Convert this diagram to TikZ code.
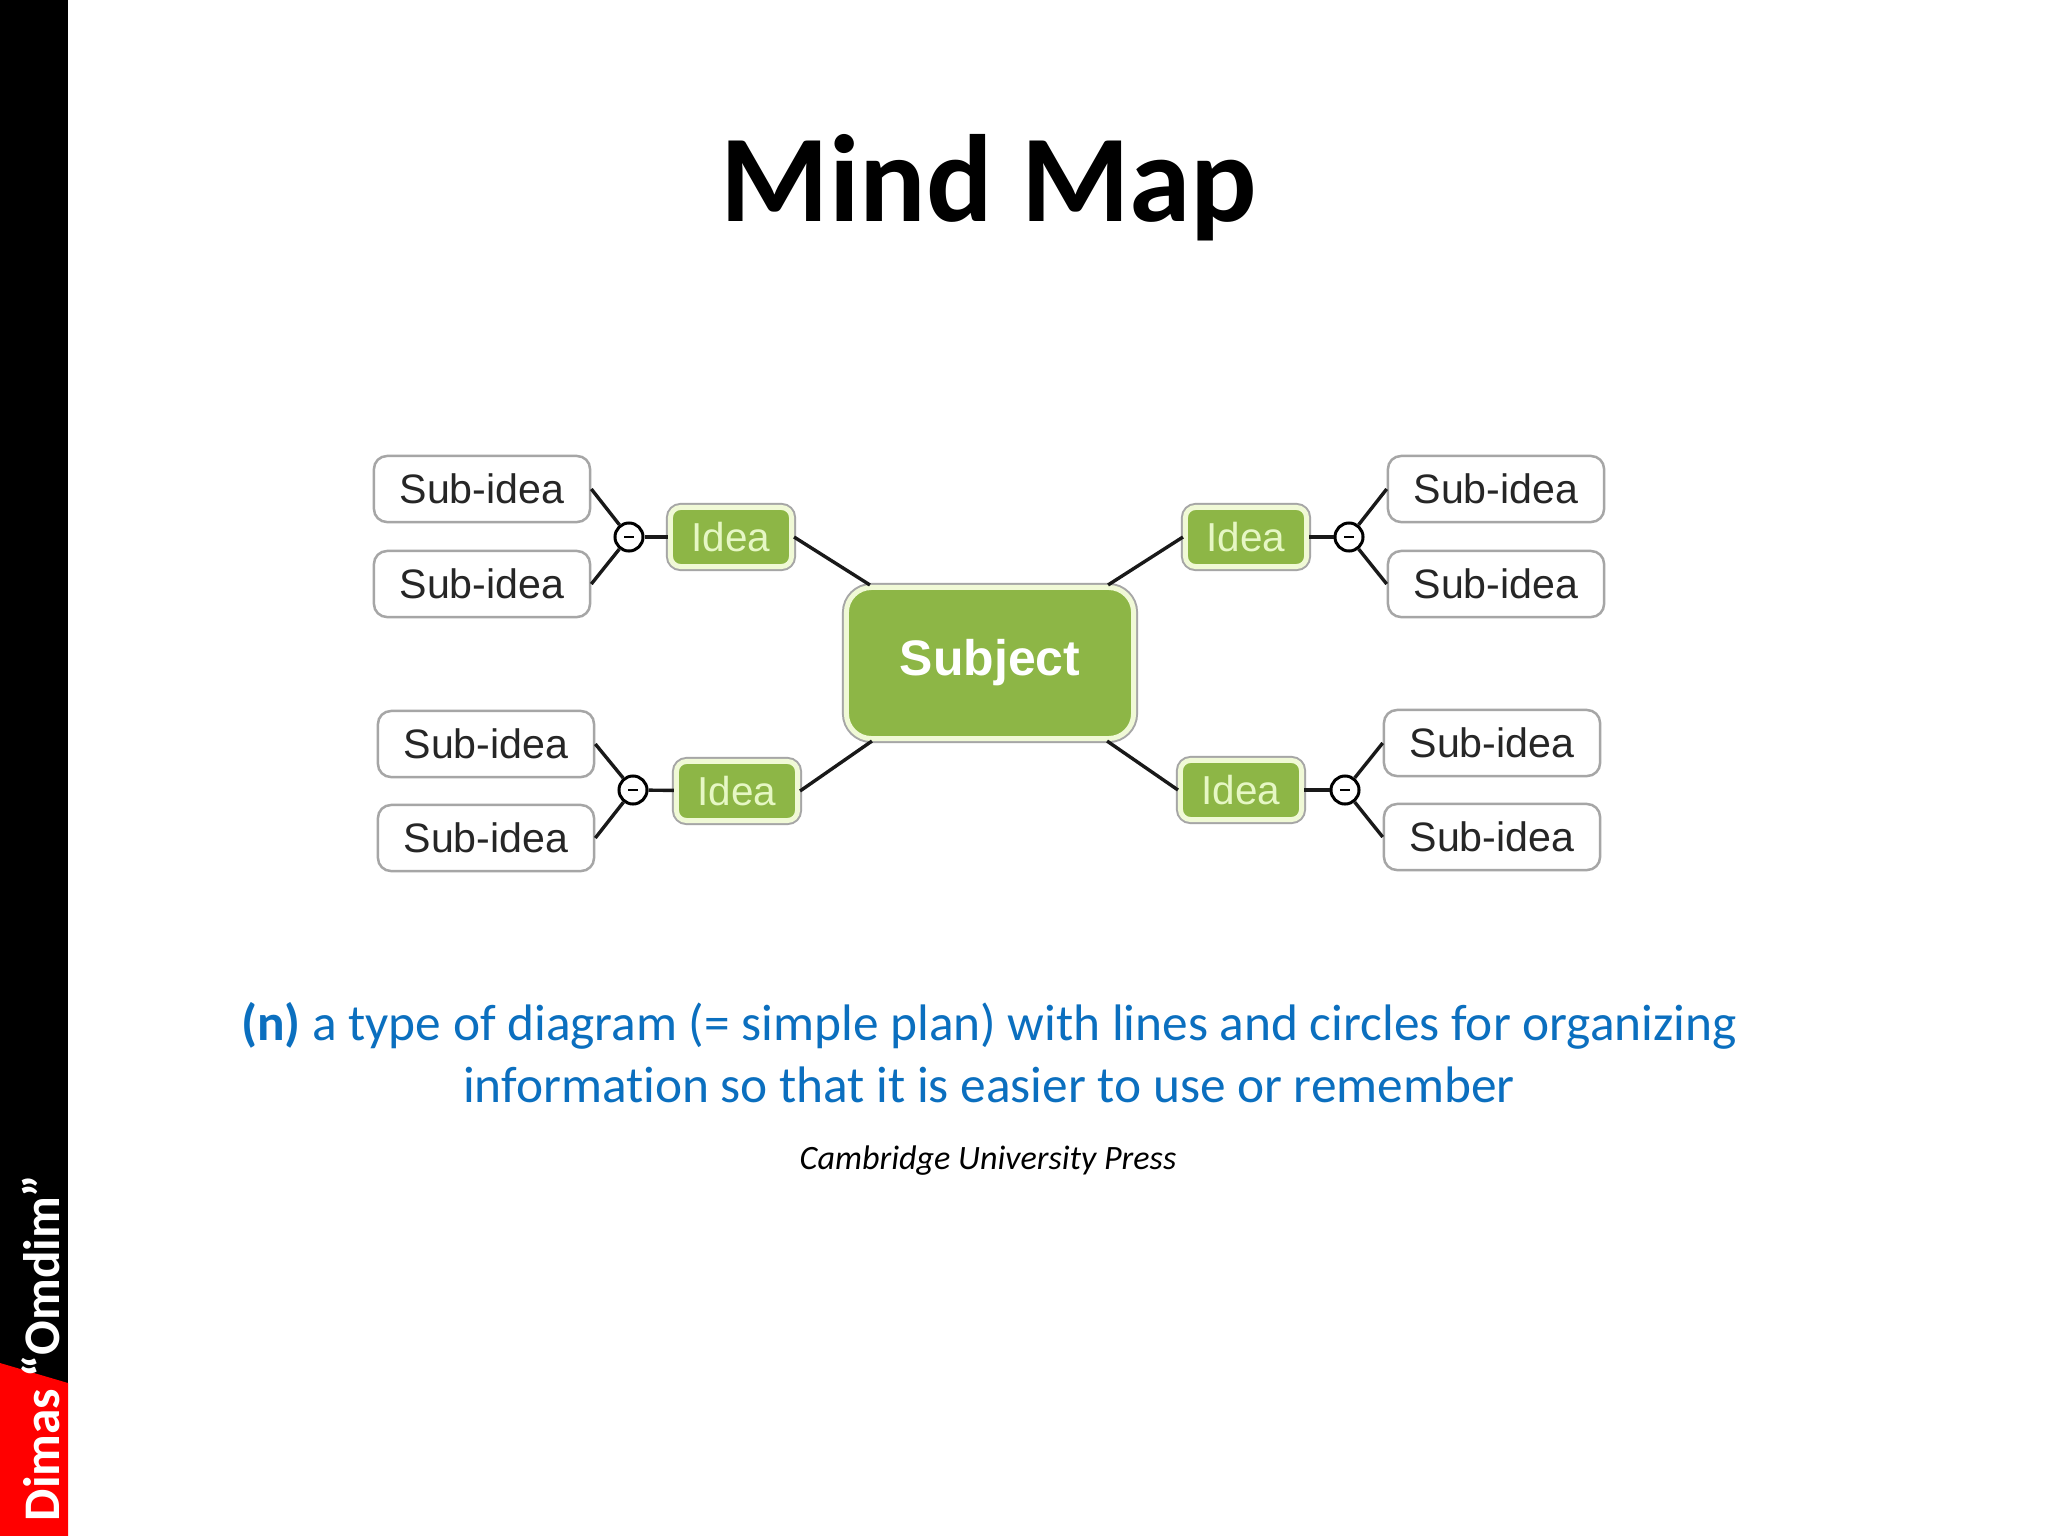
\documentclass[tikz,border=0pt]{standalone}
\usepackage{fontspec}
\setmainfont{Carlito}[Ligatures=NoCommon]
\newfontfamily\mapfont{Liberation Sans}
\usetikzlibrary{positioning,calc}
\definecolor{Leaf}{HTML}{8DB646}
\definecolor{Cream}{HTML}{F0F9D6}
\definecolor{Rim}{HTML}{A6A6A6}
\definecolor{Pale}{HTML}{E6F7C4}
\definecolor{Inkblue}{HTML}{0B6FBF}
\definecolor{Flag}{HTML}{FF0000}

\begin{document}
\begin{tikzpicture}[x=0.01cm,y=-0.01cm,
    subbox/.style={draw=Rim,fill=white,rounded corners=0.13cm,line width=0.025cm,minimum width=2.16cm,minimum height=0.66cm,inner sep=0pt,font=\mapfont\fontsize{11.7}{13}\selectfont,text=black!85},
    ideabox/.style={fill=Leaf,draw=Cream,line width=0.05cm,preaction={draw=Rim,line width=0.09cm},rounded corners=0.1cm,minimum width=1.21cm,minimum height=0.59cm,inner sep=0pt,font=\mapfont\fontsize{11.5}{13}\selectfont,text=Pale},
    subjbox/.style={ideabox,rounded corners=0.25cm,minimum width=2.87cm,minimum height=1.51cm,font=\mapfont\bfseries\fontsize{14.2}{16}\selectfont,text=white},
    knot/.style={circle,draw=black,fill=white,line width=0.03cm,minimum size=0.28cm,inner sep=0pt,
      path picture={\draw[line width=0.025cm] ([xshift=-0.05cm]path picture bounding box.center) -- ([xshift=0.05cm]path picture bounding box.center);}},
    link/.style={line width=0.034cm,black!90}]
  \useasboundingbox[fill=white] (0,0) rectangle (2048,1536);

  % side band
  \fill[black] (0,0) rectangle (68,1536);
  \fill[Flag] (0,1363) -- (68,1383) -- (68,1536) -- (0,1536) -- cycle;
  \node[rotate=90,anchor=base west,inner sep=0pt,text=white,font=\bfseries\fontsize{14.6}{16}\selectfont] (tag) at (60,1522) {Dimas “Omdim”};

  \node[font=\bfseries\fontsize{35.3}{40}\selectfont,anchor=base] (title) at (989,221) {Mind Map};

  % the map
  \node[subjbox] (subj) at (990,663) {Subject};
  \node[ideabox] (i1) at (731,537) {Idea};
  \node[ideabox] (i2) at (1246,537) {Idea};
  \node[ideabox] (i3) at (737,791) {Idea};
  \node[ideabox] (i4) at (1241,790) {Idea};

  \node[knot] (k1) at (629,537) {};
  \node[knot] (k2) at (1349,537) {};
  \node[knot] (k3) at (633,790) {};
  \node[knot] (k4) at (1345,790) {};

  \node[subbox] (s1) at (482,489) {Sub-idea};
  \node[subbox] (s2) at (482,584) {Sub-idea};
  \node[subbox] (s3) at (1496,489) {Sub-idea};
  \node[subbox] (s4) at (1496,584) {Sub-idea};
  \node[subbox] (s5) at (486,744) {Sub-idea};
  \node[subbox] (s6) at (486,838) {Sub-idea};
  \node[subbox] (s7) at (1492,743) {Sub-idea};
  \node[subbox] (s8) at (1492,837) {Sub-idea};

  \foreach \a/\b in {s1/k1,s2/k1,s5/k3,s6/k3}
    \draw[link] (\a.east) -- (\b);
  \foreach \a/\b in {s3/k2,s4/k2,s7/k4,s8/k4}
    \draw[link] (\a.west) -- (\b);
  \foreach \a/\b in {k1/i1,k2/i2,k3/i3,k4/i4}
    \draw[link] (\a) -- (\b);
  \draw[link] (i1.east) -- ([xshift=0.26cm]subj.north west);
  \draw[link] (i2.west) -- ([xshift=-0.28cm]subj.north east);
  \draw[link] (i3.east) -- ([xshift=0.28cm]subj.south west);
  \draw[link] (i4.west) -- ([xshift=-0.29cm]subj.south east);

  % definition
  \node[text=Inkblue,font=\fontsize{14.6}{17.6}\selectfont,align=center,anchor=base] (defn) at (989,1102) {\textbf{(n)} a type of diagram (= simple plan) with lines and circles for organizing\\information so that it is easier to use or remember};
  \node[font=\itshape\fontsize{9.7}{11}\selectfont,anchor=base] (src) at (988,1169) {Cambridge University Press};
\end{tikzpicture}
\end{document}
